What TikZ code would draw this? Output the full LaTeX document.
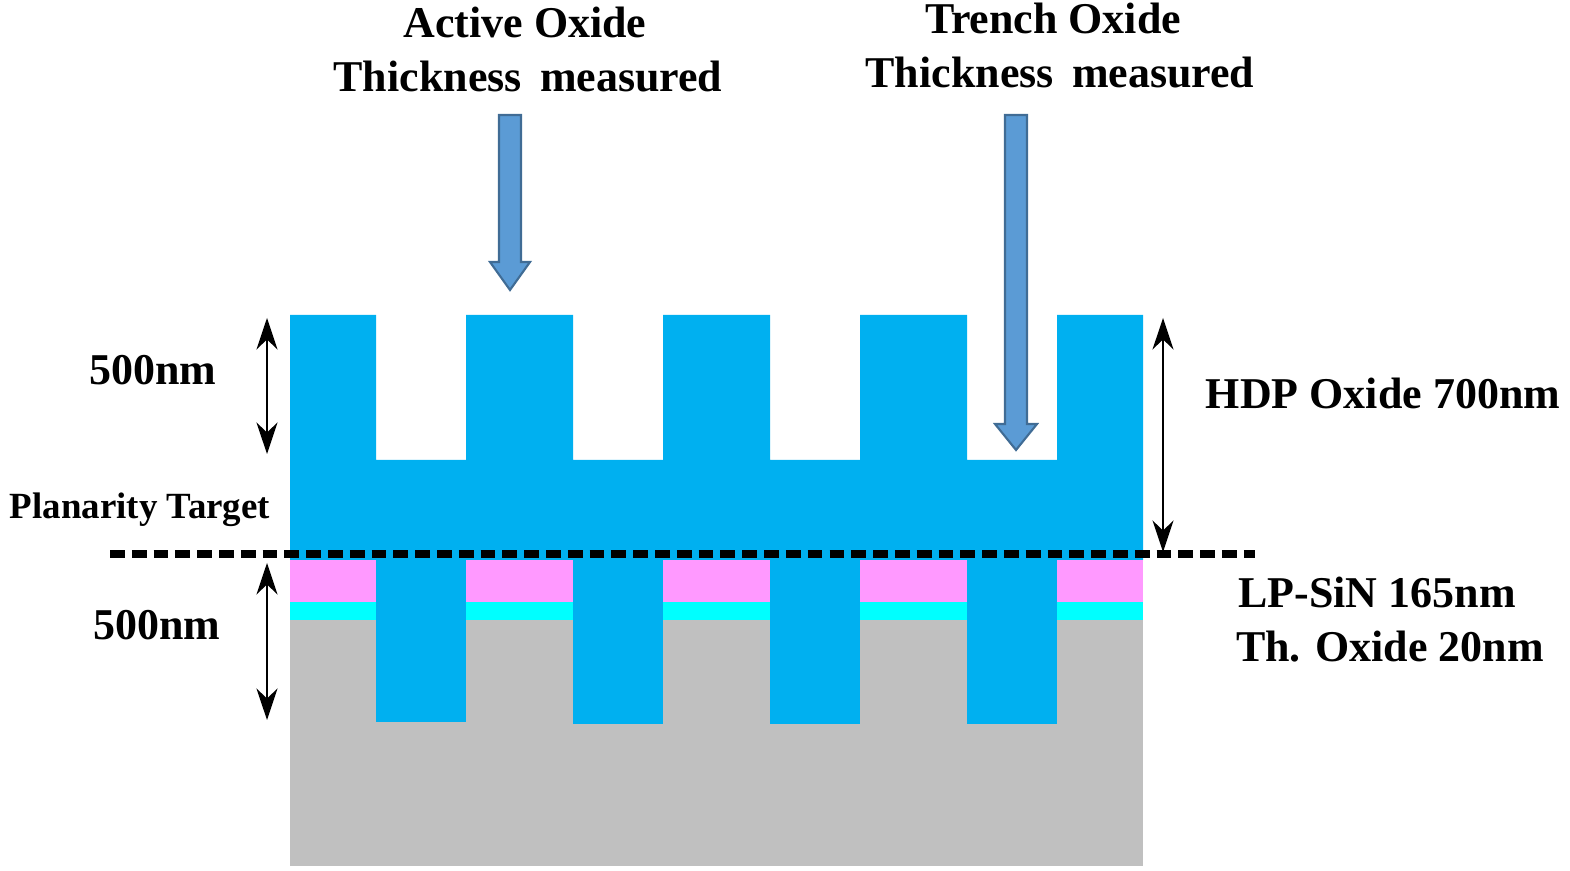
\documentclass[tikz,border=0pt]{standalone}
\usepackage{fontspec}
\setmainfont{Liberation Serif}
\usetikzlibrary{arrows.meta}
\definecolor{hdp}{HTML}{00B0F0}
\definecolor{sin}{HTML}{FF99FF}
\definecolor{thox}{HTML}{00FFFF}
\definecolor{subs}{HTML}{C0C0C0}
\definecolor{barrow}{HTML}{5B9BD5}
\begin{document}
\begin{tikzpicture}[x=0.01cm,y=-0.01cm,
    lbl/.style={font=\fontsize{12.5}{14}\selectfont\bfseries},
    dim/.style={{Stealth[length=9pt,width=6pt]}-{Stealth[length=9pt,width=6pt]}, thin},
    blockarrow/.style={fill=barrow, draw=barrow!70!black, line width=0.6pt}]
    \useasboundingbox (0,0) rectangle (1570,871);

    % layers
    \fill[subs] (290,620) rectangle (1143,866);
    \fill[thox] (290,602) rectangle (1143,620);
    \fill[sin] (290,558) rectangle (1143,602);
    \fill[hdp] (290,315) -- (376,315) -- (376,460) -- (466,460) -- (466,315)
        -- (573,315) -- (573,460) -- (663,460) -- (663,315)
        -- (770,315) -- (770,460) -- (860,460) -- (860,315)
        -- (967,315) -- (967,460) -- (1057,460) -- (1057,315)
        -- (1143,315) -- (1143,560) -- (290,560) -- cycle;
    \foreach \xa/\yb in {376/722, 573/724, 770/724, 967/724}
        \fill[hdp] (\xa,550) rectangle (\xa+90,\yb);

    % planarity line
    \coordinate (pl) at (110,554);
    \coordinate (pr) at (1255,554);
    \draw[line width=2.2pt, dash pattern=on 4.2pt off 2pt] (pl) -- (pr);

    % dimensions
    \coordinate (d1a) at (267,318); \coordinate (d1b) at (267,454);
    \coordinate (d2a) at (267,563); \coordinate (d2b) at (267,720);
    \coordinate (d3a) at (1163,318); \coordinate (d3b) at (1163,552);
    \draw[dim] (d1a) -- (d1b);
    \draw[dim] (d2a) -- (d2b);
    \draw[dim] (d3a) -- (d3b);

    % measurement arrows
    \draw[blockarrow] (499,115) -- (521,115) -- (521,262) -- (530,262) -- (510,290)
        -- (490,262) -- (499,262) -- cycle;
    \draw[blockarrow] (1005,115) -- (1027,115) -- (1027,424) -- (1037,424) -- (1016,450)
        -- (995,424) -- (1005,424) -- cycle;

    % labels
    \node[lbl] (act1) at (525,22) {Active Oxide};
    \node[lbl] (act2) at (528,77) {Thickness\, measured};
    \node[lbl] (tr1) at (1053,18) {Trench Oxide};
    \node[lbl] (tr2) at (1060,73) {Thickness\, measured};
    \node[lbl] (top500) at (153,370) {500nm};
    \node[lbl] (bot500) at (157,625) {500nm};
    \node[lbl, font=\fontsize{10.5}{12}\selectfont\bfseries] (plan) at (140,510) {Planarity Target};
    \node[lbl] (hdp) at (1383,393) {HDP Oxide 700nm};
    \node[lbl] (lpsin) at (1377,592) {LP-SiN 165nm};
    \node[lbl] (thox) at (1390,647) {Th. Oxide 20nm};
\end{tikzpicture}
\end{document}
